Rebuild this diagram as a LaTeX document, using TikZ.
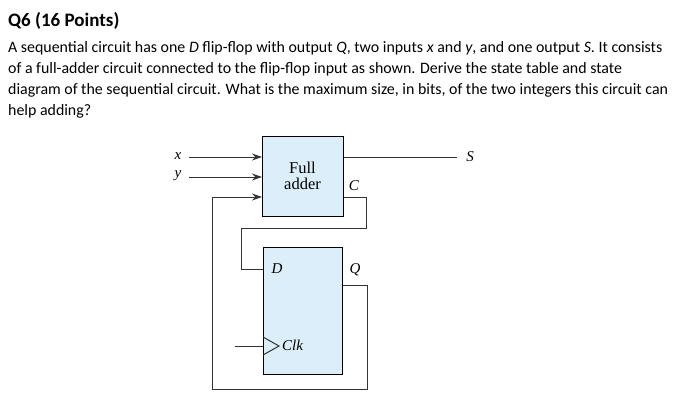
\documentclass[tikz,border=0pt]{standalone}
\usepackage{fontspec}
\setmainfont{Liberation Serif}
\newfontfamily\calfont{Carlito}
\usetikzlibrary{arrows.meta}
\definecolor{boxblue}{RGB}{220,238,250}
\begin{document}
\begin{tikzpicture}[x=1pt,y=-1pt,
  blk/.style={draw, fill=boxblue, line width=1pt},
  wire/.style={line width=1pt, draw=black!80},
  arr/.style={wire, -{Stealth[length=10pt,width=7pt]}},
  txt/.style={font=\calfont\fontsize{15.9}{18}\selectfont, anchor=base west, inner sep=0},
  lab/.style={font=\itshape\fontsize{15}{17}\selectfont, inner sep=0}]
\useasboundingbox (0,0) rectangle (689,412);
\node[font=\calfont\bfseries\fontsize{19}{22}\selectfont, anchor=base west, inner sep=0] (title) at (8,27) {Q6 (16 Points)};
\node[txt] (l1) at (8,53) {A sequential circuit has one \textit{D} flip-flop with output \textit{Q}, two inputs \textit{x} and \textit{y}, and one output \textit{S}. It consists};
\node[txt] (l2) at (8,74) {of a full-adder circuit connected to the flip-flop input as shown. Derive the state table and state};
\node[txt] (l3) at (8,95) {diagram of the sequential circuit. What is the maximum size, in bits, of the two integers this circuit can};
\node[txt] (l4) at (8,116) {help adding?};
\node[blk, minimum width=81pt, minimum height=80pt, anchor=north west] (fa) at (262,136) {};
\node[font=\fontsize{16.5}{18}\selectfont, align=center] (fat) at (302.5,176) {Full\\[-2pt]adder};
\node[blk, minimum width=79pt, minimum height=127pt, anchor=north west] (ff) at (263,247) {};
\node[lab] (lx) at (178,156) {x};
\node[lab] (ly) at (178,176) {y};
\node[lab] (lS) at (470,157) {S};
\node[lab] (lC) at (354,186) {C};
\node[lab] (lD) at (277,269) {D};
\node[lab] (lQ) at (355,270) {Q};
\node[lab, anchor=west] (lclk) at (282,345) {Clk};
\coordinate (xs) at (189,157);
\coordinate (ys) at (189,177);
\coordinate (ck) at (235,346);
\coordinate (so) at (457,157);
\draw[arr] (xs) -- (xs -| fa.west);
\draw[arr] (ys) -- (ys -| fa.west);
\draw[wire] (fa.east |- so) -- (so);
\draw[wire] (fa.east |- 0,197) -- (366,197) -- (366,228) -- (241,228) -- (241,269) -- (ff.west |- 0,269);
\draw[arr] (ff.east |- 0,285) -- (367,285) -- (367,389) -- (212,389) -- (212,197) -- (fa.west |- 0,197);
\draw[wire] (ck) -- (ck -| ff.west);
\draw[wire] (263,337) -- (279,346) -- (263,355);
\end{tikzpicture}
\end{document}
